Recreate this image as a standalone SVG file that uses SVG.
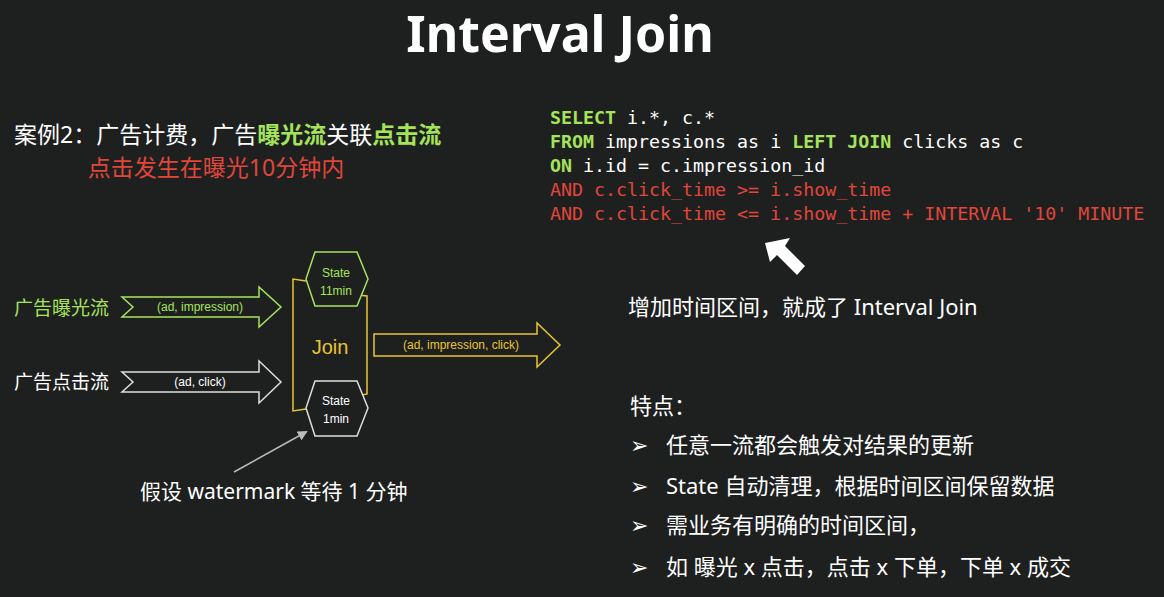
<svg xmlns="http://www.w3.org/2000/svg" width="1164" height="597" viewBox="0 0 1164 597">
<style>
.t{font-family:"Noto Sans","Noto Sans CJK SC",sans-serif}
.m{font-family:"DejaVu Sans Mono",monospace;font-size:18.3px}
.kw{fill:#a6e35a;font-weight:bold}.w{fill:#ffffff}.r{fill:#e0463a}
.lbl{font-family:"Liberation Sans",sans-serif;font-size:12px;text-anchor:middle}
</style>
<defs><marker id="ah" markerWidth="10" markerHeight="10" refX="8" refY="5" orient="auto" markerUnits="userSpaceOnUse"><path d="M0,0 L10,5 L0,10 z" fill="#bbbbbb"/></marker></defs>
<rect width="1164" height="597" fill="#1e2020"/>
<text x="560" y="52" class="t" font-size="50" font-weight="bold" fill="#fff" text-anchor="middle">Interval Join</text>
<text x="14" y="143" class="t" font-size="23" fill="#fff">案例2：广告计费，广告<tspan fill="#a6e35a" font-weight="bold">曝光流</tspan>关联<tspan fill="#a6e35a" font-weight="bold">点击流</tspan></text>
<text x="216" y="176" class="t" font-size="23" fill="#e0463a" text-anchor="middle">点击发生在曝光10分钟内</text>
<g id="code">
<text x="550" y="124" class="m"><tspan class="kw">SELECT</tspan><tspan class="w"> i.*, c.*</tspan></text>
<text x="550" y="148" class="m"><tspan class="kw">FROM</tspan><tspan class="w"> impressions as i </tspan><tspan class="kw">LEFT JOIN</tspan><tspan class="w"> clicks as c</tspan></text>
<text x="550" y="172" class="m"><tspan class="kw">ON</tspan><tspan class="w"> i.id = c.impression_id</tspan></text>
<text x="550" y="196" class="m r">AND c.click_time &gt;= i.show_time</text>
<text x="550" y="220" class="m r">AND c.click_time &lt;= i.show_time + INTERVAL '10' MINUTE</text>
</g>
<path d="M765,243 L790,238 L785,246 L805,266 L797,275 L777,255 L770,262 Z" fill="#fff"/>
<text x="628" y="315" class="t" font-size="22" fill="#fff">增加时间区间，就成了 Interval Join</text>
<g id="features" class="t" font-size="22" fill="#fff">
<text x="630" y="414">特点：</text>
<text x="630" y="453">➢</text><text x="666" y="453">任意一流都会触发对结果的更新</text>
<text x="630" y="494">➢</text><text x="666" y="494">State 自动清理，根据时间区间保留数据</text>
<text x="630" y="533">➢</text><text x="666" y="533">需业务有明确的时间区间，</text>
<text x="630" y="575">➢</text><text x="666" y="575">如 曝光 x 点击，点击 x 下单，下单 x 成交</text>
</g>
<text x="14" y="315" class="t" font-size="19" fill="#a6e35a">广告曝光流</text>
<text x="14" y="389" class="t" font-size="19" fill="#fff">广告点击流</text>
<g id="connectors" fill="none" stroke-width="1.5">
<path d="M122,297 L259,297 L259,287 L281,307 L259,327 L259,317 L122,317 L133,307 Z" stroke="#a6e35a"/>
<path d="M122,372 L259,372 L259,361 L281,382 L259,403 L259,392 L122,392 L133,382 Z" stroke="#dddddd"/>
<path d="M374,334 L537,334 L537,323 L560,345 L537,367 L537,356 L374,356 Z" stroke="#e8c530"/>
<line x1="234" y1="472" x2="306" y2="432" stroke="#bbbbbb" stroke-width="1.5" marker-end="url(#ah)"/>
</g>
<text x="200" y="311" class="lbl" fill="#a6e35a">(ad, impression)</text>
<text x="200" y="386" class="lbl" fill="#fff">(ad, click)</text>
<text x="461" y="349" class="lbl" fill="#e8c530">(ad, impression, click)</text>
<g id="join">
<path d="M306,281 L293,279 L293,411 L306,409 M358,295 L367,296 L367,394 L358,396" fill="none" stroke="#e8c530" stroke-width="1.5"/>
<text x="330" y="354" font-family="Liberation Sans,sans-serif" font-size="20" fill="#e8c530" text-anchor="middle">Join</text>
</g>
<g id="state11">
<path d="M315,252 L357,252 L368,279 L357,306 L315,306 L306,279 Z" fill="#1e2020" stroke="#a6e35a" stroke-width="1.5"/>
<text x="336" y="277" class="lbl" font-size="14" fill="#a6e35a">State</text>
<text x="336" y="295" class="lbl" font-size="14" fill="#a6e35a">11min</text>
</g>
<g id="state1">
<path d="M315,381 L357,381 L368,408 L357,436 L315,436 L306,408 Z" fill="#1e2020" stroke="#dddddd" stroke-width="1.5"/>
<text x="336" y="405" class="lbl" font-size="14" fill="#fff">State</text>
<text x="336" y="423" class="lbl" font-size="14" fill="#fff">1min</text>
</g>
<text x="140" y="499" class="t" font-size="21" fill="#fff">假设 watermark 等待 1 分钟</text>
</svg>
